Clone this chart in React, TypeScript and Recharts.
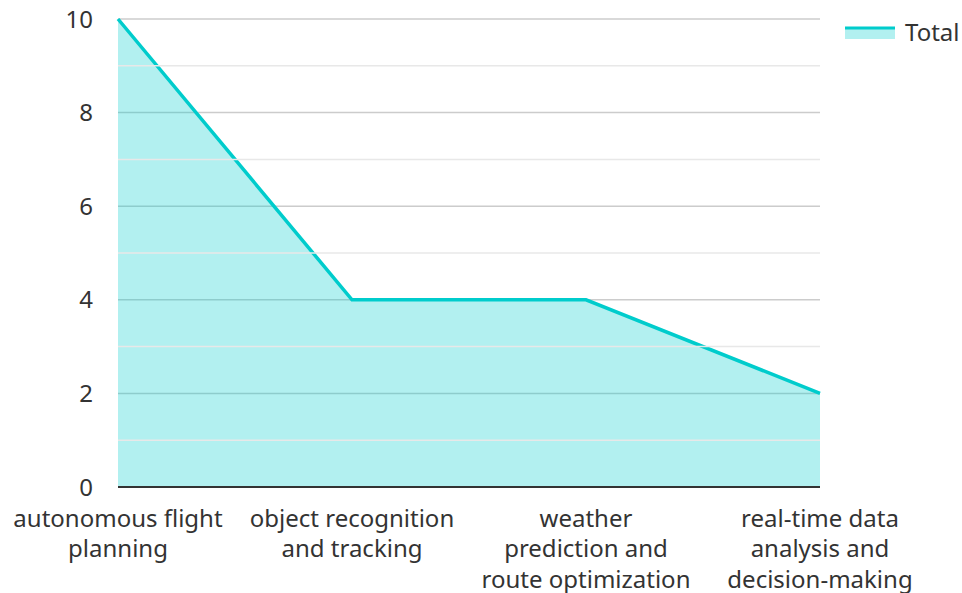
import React from 'react';
import {
  AreaChart,
  Area,
  XAxis,
  YAxis,
  CartesianGrid,
  ReferenceLine,
} from 'recharts';

const categories = [
  'autonomous flight planning',
  'object recognition and tracking',
  'weather prediction and route optimization',
  'real-time data analysis and decision-making',
];
const categoryLines = [
  ['autonomous flight', 'planning'],
  ['object recognition', 'and tracking'],
  ['weather', 'prediction and', 'route optimization'],
  ['real-time data', 'analysis and', 'decision-making'],
];
const totals = [10, 4, 4, 2];
const yTicks = [0, 2, 4, 6, 8, 10];
const minorTicks = [1, 3, 5, 7, 9];

const data = categories.map((name, i) => ({ name, Total: totals[i] }));

const FONT = '"Noto Sans", "Open Sans", sans-serif';
const TEAL = '#00cccc';

function XTick({ x, y, index }: any) {
  const lines = categoryLines[index] || [];
  return (
    <text
      x={x}
      y={y}
      textAnchor="middle"
      fill="#333"
      fontSize={24}
      fontFamily={FONT}
    >
      {lines.map((l, i) => (
        <tspan key={i} x={x} dy={i === 0 ? 31.5 : 30.5}>
          {l}
        </tspan>
      ))}
    </text>
  );
}

export default function App() {
  return (
    <div style={{ position: 'absolute', left: 0, top: 0, width: 962, height: 593, background: '#fff' }}>
      <AreaChart
        width={962}
        height={593}
        data={data}
        margin={{ top: 19, right: 142, bottom: 6, left: 58 }}
      >
        <CartesianGrid vertical={false} stroke="#cccccc" strokeWidth={1.5} />
        {minorTicks.map((v) => (
          <ReferenceLine key={v} y={v} stroke="#e8e8e8" strokeWidth={1.5} />
        ))}
        <XAxis
          dataKey="name"
          tick={<XTick />}
          tickLine={false}
          axisLine={{ stroke: '#333', strokeWidth: 2 }}
          height={100}
          interval={0}
        />
        <YAxis
          domain={[0, 10]}
          ticks={yTicks}
          tickLine={false}
          axisLine={false}
          width={60}
          tickMargin={19}
          tick={{ fill: '#333', fontSize: 24, fontFamily: FONT }}
        />
        <Area
          type="linear"
          dataKey="Total"
          stroke={TEAL}
          strokeWidth={3.5}
          fill={TEAL}
          fillOpacity={0.3}
          isAnimationActive={false}
        />
      </AreaChart>
      {/* legend drawn outside the chart so it doesn't push the plot down */}
      <div
        style={{
          position: 'absolute',
          left: 845,
          top: 18,
          display: 'flex',
          alignItems: 'center',
          fontFamily: FONT,
        }}
      >
        <svg width={50} height={16} style={{ display: 'block' }}>
          <rect x={0} y={3} width={50} height={12} fill={TEAL} fillOpacity={0.3} />
          <line x1={0} y1={4} x2={50} y2={4} stroke={TEAL} strokeWidth={3} />
        </svg>
        <span style={{ marginLeft: 10, fontSize: 24, color: '#333', lineHeight: '28px' }}>Total</span>
      </div>
    </div>
  );
}
